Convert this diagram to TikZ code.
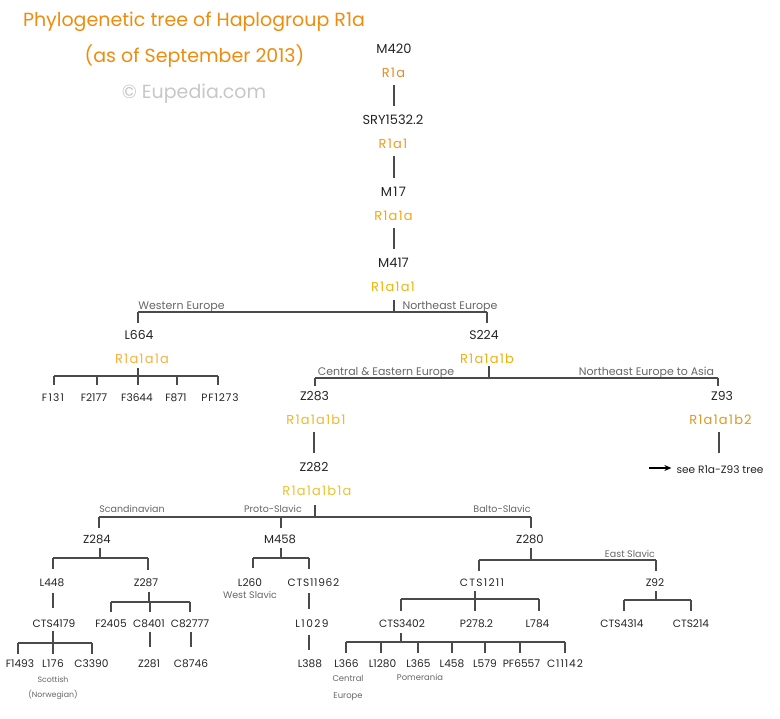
\documentclass[tikz,border=0pt]{standalone}
\usepackage{fontspec}
\setmainfont{Poppins}
\usetikzlibrary{arrows.meta}
\definecolor{linecol}{HTML}{4A4A4A}
\definecolor{snpcol}{HTML}{242424}
\definecolor{regioncol}{HTML}{666666}
\definecolor{titlecol}{HTML}{EE8C0E}
\definecolor{cladeA}{HTML}{EC8A22}
\definecolor{cladeB}{HTML}{F09A20}
\definecolor{cladeC}{HTML}{F0A80E}
\definecolor{cladeD}{HTML}{F0B40E}
\definecolor{cladeE}{HTML}{FBB040}
\definecolor{cladeF}{HTML}{F0B010}
\definecolor{cladeG}{HTML}{EEB72C}
\definecolor{cladeH}{HTML}{EEC030}
\definecolor{cladeI}{HTML}{D99A20}
\tikzset{
  snp/.style={inner sep=0pt,text height=10.5pt,text depth=0pt,text=snpcol,font=\fontsize{12.4}{14}\selectfont,minimum height=#1},
  snp/.default=20,
  topsnp/.style={snp=26,font=\fontsize{13}{14}\selectfont},
  midsnp/.style={snp=20,font=\fontsize{11.6}{14}\selectfont},
  leaf/.style={snp=#1,font=\fontsize{10.6}{13}\selectfont},
  leaf/.default=20,
  spaced/.style={font=\fontsize{10.6}{13}\selectfont\addfontfeature{LetterSpace=#1}},
  clade/.style={inner sep=0pt,text height=10.5pt,text depth=0pt,minimum height=26,text=#1,font=\fontsize{13}{14}\selectfont\addfontfeature{LetterSpace=9}},
  region/.style={inner sep=0pt,text height=10pt,text depth=0pt,text=regioncol,font=\fontsize{11}{13}\selectfont},
  lowregion/.style={region,font=\fontsize{9.5}{13}\selectfont},
  note/.style={region,font=\fontsize{8.4}{11}\selectfont},
  titletext/.style={inner sep=0pt,text=titlecol,font=\fontsize{19}{22}\selectfont}
}
\begin{document}
\begin{tikzpicture}[x=1pt,y=-1pt]
        \useasboundingbox (0,0) rectangle (780,719);
        % title
        \node[titletext] (title) at (194,22) {Phylogenetic tree of Haplogroup R1a};
        \node[titletext] (asof) at (194.5,56.5) {(as of September 2013)};
        \node[titletext,text=black!22] (eupedia) at (194,93.5) {© Eupedia.com};
        % main markers
        \begin{scope}[every node/.style={topsnp}]
        \node (M420) at (394,48) {M420};
        \node (SRY) at (393,119) {SRY1532.2};
        \node[font=\fontsize{13}{14}\selectfont\addfontfeature{LetterSpace=10}] (M17) at (393.5,191) {M17};
        \node (M417) at (393.5,262) {M417};
        \end{scope}
        \begin{scope}[every node/.style={snp=26}]
        \node[minimum height=22] (L664) at (139,334) {L664};
        \node[minimum height=22] (S224) at (484,334) {S224};
        \node[minimum height=18] (Z283) at (314.5,395) {Z283};
        \node[minimum height=18] (Z93) at (722,395) {Z93};
        \node (Z282) at (314,466) {Z282};
        \end{scope}
        \begin{scope}[every node/.style={midsnp}]
        \node (Z284) at (97,538) {Z284};
        \node (M458) at (280,538) {M458};
        \node (Z280) at (530,538) {Z280};
        \end{scope}
        % subclades
        \node[clade=cladeA] (R1a) at (393.5,72) {R1a};
        \node[clade=cladeB] (R1a1) at (393,143) {R1a1};
        \node[clade=cladeC] (R1a1a) at (393.5,215) {R1a1a};
        \node[clade=cladeD,minimum height=28] (R1a1a1) at (393,286) {R1a1a1};
        \node[clade=cladeE,minimum height=20] (R1a1a1a) at (142,358) {R1a1a1a};
        \node[clade=cladeF,minimum height=16] (R1a1a1b) at (487,358) {R1a1a1b};
        \node[clade=cladeG] (R1a1a1b1) at (316,419) {R1a1a1b1};
        \node[clade=cladeI] (R1a1a1b2) at (720.5,419) {R1a1a1b2};
        \node[clade=cladeH,minimum height=30] (R1a1a1b1a) at (317,490) {R1a1a1b1a};
        % smaller markers
        \begin{scope}[every node/.style={leaf}]
        \node[minimum height=22,spaced=12] (F131) at (53,396) {F131};
        \node[minimum height=22] (F2177) at (94,396) {F2177};
        \node[minimum height=22] (F3644) at (137,396) {F3644};
        \node[minimum height=22] (F871) at (176,396) {F871};
        \node[minimum height=22,spaced=8] (PF1273) at (220,396) {PF1273};
        \node[minimum height=23] (L448) at (52,581) {L448};
        \node[minimum height=21] (Z287) at (146,581) {Z287};
        \node[minimum height=26] (L260) at (250,581) {L260};
        \node[minimum height=24,spaced=7] (CTS11962) at (313.5,581) {CTS11962};
        \node[spaced=12] (CTS1211) at (482,581) {CTS1211};
        \node (Z92) at (655,581) {Z92};
        \node[minimum height=18] (CTS4179) at (54,622) {CTS4179};
        \node (F2405) at (111,622) {F2405};
        \node (C8401) at (149,622) {C8401};
        \node (C82777) at (190,622) {C82777};
        \node[minimum height=25,spaced=14] (L1029) at (312,622) {L1029};
        \node[minimum height=22] (CTS3402) at (402,622) {CTS3402};
        \node[minimum height=22] (P2782) at (476.5,622) {P278.2};
        \node[minimum height=22] (L784) at (537.5,622) {L784};
        \node[minimum height=22] (CTS4314) at (622,622) {CTS4314};
        \node[minimum height=22] (CTS214) at (691,622) {CTS214};
        \node[minimum height=16] (F1493) at (20,662) {F1493};
        \node[minimum height=16,spaced=4] (L176) at (53,662) {L176};
        \node[minimum height=16] (C3390) at (91.5,662) {C3390};
        \node[minimum height=30] (Z281) at (149,662) {Z281};
        \node[minimum height=30] (C8746) at (191,662) {C8746};
        \node[minimum height=24] (L388) at (310,662) {L388};
        \node[minimum height=18] (L366) at (346.5,662) {L366};
        \node[minimum height=18] (L1280) at (382.5,662) {L1280};
        \node[minimum height=18] (L365) at (418.5,662) {L365};
        \node[minimum height=18] (L458) at (452,662) {L458};
        \node[minimum height=18] (L579) at (485,662) {L579};
        \node[minimum height=18] (PF6557) at (521.5,662) {PF6557};
        \node[minimum height=18,spaced=9] (C11142) at (565,662) {C11142};
        \end{scope}
        % regions
        \begin{scope}[every node/.style={region}]
        \node (western) at (181.5,305) {Western Europe};
        \node (northeast) at (450,305) {Northeast Europe};
        \node (central) at (386,371) {Central \& Eastern Europe};
        \node (toasia) at (646.5,371) {Northeast Europe to Asia};
        \end{scope}
        \begin{scope}[every node/.style={lowregion}]
        \node (scand) at (132,508) {Scandinavian};
        \node (proto) at (273,508) {Proto-Slavic};
        \node (balto) at (502,508) {Balto-Slavic};
        \node (east) at (630,553) {East Slavic};
        \node (west) at (250,593) {West Slavic};
        \end{scope}
        \begin{scope}[every node/.style={note}]
        \node[font=\fontsize{7.8}{11}\selectfont] (scottish) at (53,677) {Scottish};
        \node[font=\fontsize{7.8}{11}\selectfont] (norwegian) at (53,692) {(Norwegian)};
        \node (centraleu) at (348,676) {Central};
        \node (europe) at (348,693) {Europe};
        \node (pomerania) at (420,675) {Pomerania};
        \end{scope}
        \node[leaf,inner sep=0pt] (see) at (720,468) {see R1a-Z93 tree};
        % bus coordinates
        \coordinate (top1) at (394,312);
        \coordinate (bL664) at (138,312);
        \coordinate (bS224) at (487,312);
        \coordinate (top2) at (138,376);
        \coordinate (bF131) at (54,376);
        \coordinate (bF2177) at (97,376);
        \coordinate (bF871) at (177,376);
        \coordinate (bPF1273) at (218,376);
        \coordinate (top3) at (489,378);
        \coordinate (bZ283) at (315,378);
        \coordinate (bZ93) at (718,378);
        \coordinate (z93end) at (719,453);
        \coordinate (arrowstart) at (649,468);
        \coordinate (top4) at (315,517);
        \coordinate (bZ284) at (99,517);
        \coordinate (bM458) at (281,517);
        \coordinate (bZ280) at (531,517);
        \coordinate (top5) at (100,558);
        \coordinate (bL448) at (53,558);
        \coordinate (bZ287) at (148,558);
        \coordinate (top6) at (281,558);
        \coordinate (bL260) at (253,558);
        \coordinate (bCTS11962) at (309,558);
        \coordinate (top7) at (149,602);
        \coordinate (bF2405) at (111,602);
        \coordinate (bC8401) at (150,602);
        \coordinate (bC82777) at (190,602);
        \coordinate (top8) at (53,643);
        \coordinate (bF1493) at (18,643);
        \coordinate (bC3390) at (92,643);
        \coordinate (top9) at (531,560);
        \coordinate (bCTS1211) at (479,560);
        \coordinate (bZ92) at (656,560);
        \coordinate (top10) at (475,599);
        \coordinate (bCTS3402) at (401,599);
        \coordinate (bL784) at (539,599);
        \coordinate (top11) at (656,600);
        \coordinate (bCTS4314) at (624,600);
        \coordinate (bCTS214) at (691,600);
        \coordinate (top12) at (401,642);
        \coordinate (bL366) at (346,642);
        \coordinate (bL1280) at (381,642);
        \coordinate (bL365) at (418,642);
        \coordinate (bL458) at (452,642);
        \coordinate (bL579) at (485,642);
        \coordinate (bPF6557) at (520,642);
        \coordinate (bC11142) at (565,642);
        % connectors
        \begin{scope}[every edge/.style={draw=linecol,line width=1.2pt}]
        \path (R1a.south -| top1) edge (SRY.north -| top1)
              (R1a1.south -| top1) edge (M17.north -| top1)
              (R1a1a.south -| top1) edge (M417.north -| top1)
              (R1a1a1.south -| top1) edge (top1)
              (bL664) edge (bS224)
              (bL664) edge (bL664 |- L664.north)
              (bS224) edge (bS224 |- S224.north);
        \path (R1a1a1a.south -| top2) edge (top2)
              (bF131) edge (bPF1273)
              (bF131) edge (bF131 |- F131.north)
              (bF2177) edge (bF2177 |- F2177.north)
              (top2) edge (top2 |- F3644.north)
              (bF871) edge (bF871 |- F871.north)
              (bPF1273) edge (bPF1273 |- PF1273.north);
        \path (R1a1a1b.south -| top3) edge (top3)
              (bZ283) edge (bZ93)
              (bZ283) edge (bZ283 |- Z283.north)
              (bZ93) edge (bZ93 |- Z93.north)
              (R1a1a1b1.south -| Z282) edge (Z282.north)
              (R1a1a1b2.south -| z93end) edge (z93end);
        \path (R1a1a1b1a.south -| top4) edge (top4)
              (bZ284) edge (bZ280)
              (bZ284) edge (bZ284 |- Z284.north)
              (bM458) edge (bM458 |- M458.north)
              (bZ280) edge (bZ280 |- Z280.north);
        \path (Z284.south -| top5) edge (top5)
              (bL448) edge (bZ287)
              (bL448) edge (bL448 |- L448.north)
              (bZ287) edge (bZ287 |- Z287.north)
              (M458.south -| top6) edge (top6)
              (bL260) edge (bCTS11962)
              (bL260) edge (bL260 |- L260.north)
              (bCTS11962) edge (bCTS11962 |- CTS11962.north);
        \path (L448.south -| top8) edge[shorten >=5pt] (CTS4179.north -| top8)
              (CTS4179.south -| top8) edge (top8)
              (bF1493) edge (bC3390)
              (bF1493) edge (bF1493 |- F1493.north)
              (top8) edge (top8 |- L176.north)
              (bC3390) edge (bC3390 |- C3390.north);
        \path (Z287.south -| top7) edge (top7)
              (bF2405) edge (bC82777)
              (bF2405) edge (bF2405 |- F2405.north)
              (bC8401) edge (bC8401 |- C8401.north)
              (bC82777) edge (bC82777 |- C82777.north)
              (C8401.south -| bC8401) edge (bC8401 |- Z281.north)
              (C82777.south -| C8746) edge (C8746.north)
              (CTS11962.south -| bCTS11962) edge (bCTS11962 |- L1029.north)
              (L1029.south -| bCTS11962) edge (bCTS11962 |- L388.north);
        \path (Z280.south -| top9) edge (top9)
              (bCTS1211) edge (bZ92)
              (bCTS1211) edge (bCTS1211 |- CTS1211.north)
              (bZ92) edge (bZ92 |- Z92.north)
              (CTS1211.south -| top10) edge (top10)
              (bCTS3402) edge (bL784)
              (bCTS3402) edge (bCTS3402 |- CTS3402.north)
              (top10) edge (top10 |- P2782.north)
              (bL784) edge (bL784 |- L784.north)
              (Z92.south -| top11) edge (top11)
              (bCTS4314) edge (bCTS214)
              (bCTS4314) edge (bCTS4314 |- CTS4314.north)
              (bCTS214) edge (bCTS214 |- CTS214.north);
        \path (CTS3402.south -| top12) edge (top12)
              (bL366) edge (bC11142)
              (bL366) edge (bL366 |- L366.north)
              (bL1280) edge (bL1280 |- L1280.north)
              (bL365) edge (bL365 |- L365.north)
              (bL458) edge (bL458 |- L458.north)
              (bL579) edge (bL579 |- L579.north)
              (bPF6557) edge (bPF6557 |- PF6557.north)
              (bC11142) edge (bC11142 |- C11142.north);
        \end{scope}
        \draw[-{Stealth[length=7pt,width=6pt]},line width=1.2pt,shorten >=5pt] (arrowstart) -- (see.west);
\end{tikzpicture}
\end{document}
